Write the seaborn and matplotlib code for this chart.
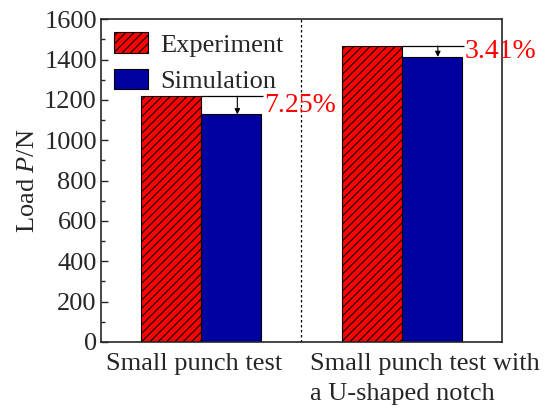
import pandas as pd
import matplotlib
matplotlib.use("Agg")
import matplotlib.pyplot as plt
import matplotlib.patches as mpatches
import matplotlib.transforms as mtransforms
import seaborn as sns

tests = ["Small punch test", "Small punch test with\na U-shaped notch"]
experiment = [1218, 1467]
simulation = [1128, 1413]
errors = ["7.25%", "3.41%"]

df = pd.DataFrame({
    "test": tests * 2,
    "load": experiment + simulation,
    "kind": ["Experiment"] * 2 + ["Simulation"] * 2,
})

sns.set_style("ticks")
plt.rcParams["font.family"] = ["Liberation Serif", "DejaVu Serif"]
plt.rcParams["mathtext.fontset"] = "custom"
plt.rcParams["mathtext.rm"] = "Liberation Serif"
plt.rcParams["mathtext.it"] = "Liberation Serif:italic"
plt.rcParams["hatch.linewidth"] = 0.8

fig = plt.figure(figsize=(5.5, 4.17), dpi=100)
ax = fig.add_axes([0.1836, 0.180, 0.7291, 0.774])

red, blue = "#ff0000", "#0000a0"
sns.barplot(data=df, x="test", y="load", hue="kind", width=0.6,
            palette=[red, blue], ax=ax, legend=False, saturation=1)

for cont, hatch in zip(ax.containers, ["////", ""]):
    for bar in cont:
        bar.set_hatch(hatch)
        bar.set_edgecolor("black")
        bar.set_linewidth(0.8)

# difference markers
for i, (e, s, txt) in enumerate(zip(experiment, simulation, errors)):
    sim_bar = ax.containers[1][i]
    x0 = sim_bar.get_x()
    x1 = x0 + sim_bar.get_width()
    ax.hlines(e, x0, x1 + 0.01, color="black", lw=0.9)
    xa = x0 + 0.6 * sim_bar.get_width()
    ax.annotate("", xy=(xa, s), xytext=(xa, e),
                arrowprops=dict(arrowstyle="-|>", color="black", lw=0.8,
                                mutation_scale=8, shrinkA=0, shrinkB=0))
    ax.text(x1 + 0.015, (e + s) / 2, txt, color="red", fontsize=20,
            ha="left", va="center")

ax.axvline(0.5, color="black", ls=(0, (2, 2)), lw=0.9)

ax.set_xlim(-0.5, 1.5)
ax.set_ylim(0, 1600)
ax.set_yticks(range(0, 1601, 200))
ax.set_yticks(range(100, 1600, 200), minor=True)
ax.tick_params(axis="y", which="major", direction="in", length=5, width=1,
               labelsize=19, pad=3)
ax.tick_params(axis="y", which="minor", direction="in", length=3, width=1)
ax.tick_params(axis="x", length=0, labelsize=19, pad=8)
shifts = [-7, 23]
for lab, dx in zip(ax.get_xticklabels(), shifts):
    lab.set_multialignment("left")
    lab.set_linespacing(1.45)
    lab.set_transform(lab.get_transform() +
                      mtransforms.ScaledTranslation(dx / 100, 0, fig.dpi_scale_trans))
ax.set_xlabel("")
ax.set_ylabel("Load $P$/N", fontsize=19, labelpad=4)
for sp in ax.spines.values():
    sp.set_visible(True)
    sp.set_linewidth(1.2)

handles = [mpatches.Patch(facecolor=red, edgecolor="black", hatch="////", lw=0.8),
           mpatches.Patch(facecolor=blue, edgecolor="black", lw=0.8)]
ax.legend(handles, ["Experiment", "Simulation"], loc="upper left", frameon=False,
          fontsize=19, handlelength=1.3, handleheight=0.8, handletextpad=0.45,
          labelspacing=0.45, borderaxespad=0.1, borderpad=0.4)

fig.savefig("out.png", dpi=100)
